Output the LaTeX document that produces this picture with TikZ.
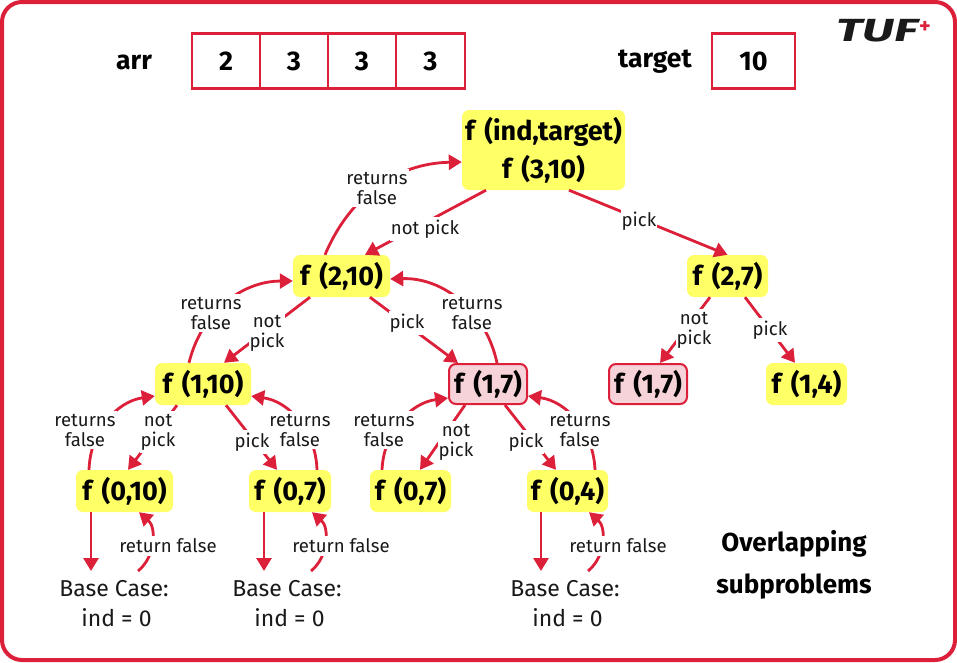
\documentclass[tikz,border=0pt]{standalone}
\usepackage{fontspec}
\setmainfont{Fira Sans}[BoldFeatures={WordSpace=1.5}]
\usetikzlibrary{arrows.meta,calc}
\definecolor{tufred}{HTML}{DC2039}
\definecolor{boxyellow}{HTML}{FFFF66}
\definecolor{boxpink}{HTML}{F6D3D8}
\definecolor{logoblack}{HTML}{1A1A1A}
\tikzset{
  call/.style={fill=boxyellow,rounded corners=7pt,minimum height=42pt,inner sep=0pt,align=center,font=\fontsize{27}{38}\selectfont\bfseries},
  seen/.style={call,fill=boxpink,draw=tufred,line width=2pt},
  lab/.style={fill=white,inner xsep=1pt,inner ysep=3pt,align=center,font=\fontsize{18.6}{20}\selectfont,text=black!90},
  base/.style={inner xsep=0pt,inner ysep=9pt,align=center,font=\fontsize{23}{30}\selectfont,text=black!90},
  head/.style={inner sep=0pt,font=\fontsize{26.5}{30}\selectfont\bfseries},
  cell/.style={draw=tufred,line width=2.5pt,minimum height=55pt,inner sep=0pt,font=\fontsize{27}{30}\selectfont\bfseries},
  con/.style={draw=tufred,line width=2.8pt,-{Triangle[length=13pt,width=15pt]}},
}
\begin{document}
\begin{tikzpicture}[x=1pt,y=-1pt]
\useasboundingbox (0,0) rectangle (957,662);
\node[draw=tufred,line width=4pt,rounded corners=20pt,minimum width=953pt,minimum height=658pt,inner sep=0pt] (frame) at (478.5,331) {};

\node[head] (arrlab) at (134,62) {arr};
\node[cell,minimum width=68pt] (c1) at (226,61) {2};
\node[cell,minimum width=68pt] (c2) at (294,61) {3};
\node[cell,minimum width=68pt] (c3) at (362,61) {3};
\node[cell,minimum width=69pt] (c4) at (430.5,61) {3};
\node[head] (tlab) at (655,62) {target};
\node[cell,minimum width=83pt] (tbox) at (753.5,61) {10};
\node[inner sep=0pt,text=logoblack] (logo) at (877,31) {\scalebox{1.55}[1]{\fontsize{32}{32}\selectfont\bfseries\itshape TUF}};
\node[inner sep=0pt,text=tufred] (plus) at (925,27) {\fontsize{22}{22}\selectfont\bfseries +};

\node[call,minimum width=163pt,minimum height=80pt] (root) at (543.5,150) {f (ind,target)\\f (3,10)};
\node[call,minimum width=97pt] (n210) at (341.5,276) {f (2,10)};
\node[call,minimum width=81pt] (n27) at (727.5,276) {f (2,7)};
\node[call,minimum width=96pt] (n110) at (203,384) {f (1,10)};
\node[seen,minimum width=78pt,minimum height=40pt] (n17a) at (488,384) {f (1,7)};
\node[seen,minimum width=78pt,minimum height=40pt] (n17b) at (648,384) {f (1,7)};
\node[call,minimum width=81pt] (n14) at (806.5,384) {f (1,4)};
\node[call,minimum width=97pt] (n010) at (124.5,491) {f (0,10)};
\node[call,minimum width=82pt] (n07a) at (290,491) {f (0,7)};
\node[call,minimum width=81pt] (n07b) at (410.5,491) {f (0,7)};
\node[call,minimum width=81pt] (n04) at (567.5,491) {f (0,4)};

\node[base,anchor=north] (b1) at (114,571) {Base Case:\\\hspace*{5pt}ind = 0};
\node[base,anchor=north] (b2) at (287,571) {Base Case:\\\hspace*{5pt}ind = 0};
\node[base,anchor=north] (b3) at (565,571) {Base Case:\\\hspace*{5pt}ind = 0};
\node[head,align=center,font=\fontsize{26}{42}\selectfont\bfseries] (note) at (794,565) {Overlapping\\subproblems};

% connectors
\draw[con] ([xshift=-57.5pt]root.south) -- ([xshift=23.5pt]n210.north);
\draw[con] ([xshift=25.5pt]root.south) -- (n27.north);
\draw[con] ([xshift=-16.5pt]n210.north) to[bend left=33] ([yshift=-12pt]root.west);
\draw[con] ([xshift=-31.5pt]n210.south) -- ([xshift=21pt]n110.north);
\draw[con] ([xshift=28.5pt]n210.south) -- ([xshift=-30pt]n17a.north);
\draw[con] ([xshift=9pt]n17a.north) to[bend right=40] ([yshift=-3pt]n210.east);
\draw[con] ([xshift=-14pt]n110.north) to[bend left=38] ([yshift=-5pt]n210.west);
\draw[con] ([xshift=-17.5pt]n27.south) -- ([xshift=12pt]n17b.north);
\draw[con] ([xshift=17.5pt]n27.south) -- ([xshift=-11.5pt]n14.north);
\draw[con] ([xshift=-26pt]n110.south) -- ([xshift=3.5pt]n010.north);
\draw[con] ([xshift=23pt]n110.south) -- ([xshift=-13pt]n07a.north);
\draw[con] ([xshift=27pt]n07a.north) to[bend right=40] ([yshift=-12pt]n110.east);
\draw[con] ([xshift=-35.5pt]n010.north) to[bend left=40] ([yshift=-12pt]n110.west);
\draw[con] ([xshift=-23pt]n17a.south) -- ([xshift=9.5pt]n07b.north);
\draw[con] ([xshift=17pt]n17a.south) -- ([xshift=-11.5pt]n04.north);
\draw[con] ([xshift=27.5pt]n04.north) to[bend right=40] ([yshift=-12pt]n17a.east);
\draw[con] ([xshift=-28.5pt]n07b.north) to[bend left=40] ([yshift=-14pt]n17a.west);
\draw[con] ([xshift=-33.5pt]n010.south) -- ([xshift=-23pt]b1.north);
\draw[con] ([xshift=24pt]b1.north) to[bend right=50] ([xshift=14.5pt]n010.south);
\draw[con] ([xshift=-26pt]n07a.south) -- ([xshift=-23pt]b2.north);
\draw[con] ([xshift=24pt]b2.north) to[bend right=50] ([xshift=22pt]n07a.south);
\draw[con] ([xshift=-26.5pt]n04.south) -- ([xshift=-24pt]b3.north);
\draw[con] ([xshift=23pt]b3.north) to[bend right=50] ([xshift=21.5pt]n04.south);

% connector labels
\node[lab] (l1) at (425,229) {not pick};
\node[lab] (l2) at (639,221) {pick};
\node[lab] (l3) at (377,188) {returns\\false};
\node[lab] (l4) at (267,333) {not\\pick};
\node[lab] (l5) at (407,323) {pick};
\node[lab] (l6) at (472,313) {returns\\false};
\node[lab] (l7) at (211,313) {returns\\false};
\node[lab] (l8) at (694,330) {not\\pick};
\node[lab] (l9) at (770,330) {pick};
\node[lab] (l10) at (158,432) {not\\pick};
\node[lab] (l12) at (300,430) {returns\\false};
\node[lab] (l13) at (85,430) {returns\\false};
\node[lab] (l14) at (456,442) {not\\pick};
\node[lab] (l16) at (580,430) {returns\\false};
\node[lab] (l17) at (384,430) {returns\\false};
\node[lab] (l11) at (252,442) {pick};
\node[lab] (l15) at (526,442) {pick};
\node[lab] (l18) at (168,546) {return false};
\node[lab] (l19) at (341,546) {return false};
\node[lab] (l20) at (618,546) {return false};
\end{tikzpicture}
\end{document}
